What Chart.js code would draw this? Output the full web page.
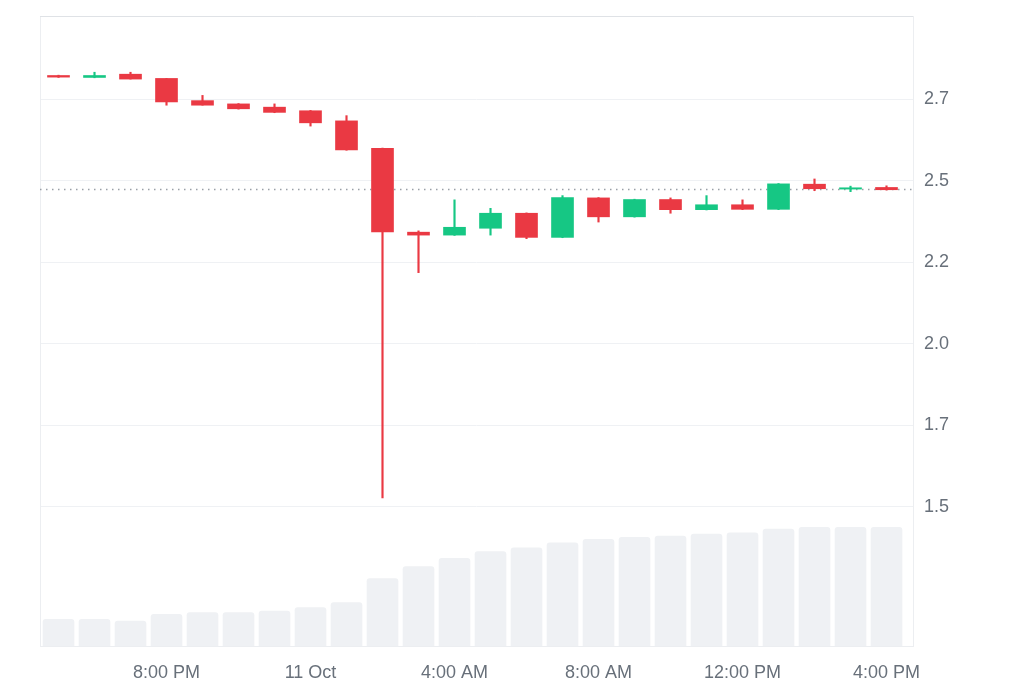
<!DOCTYPE html>
<html>
<head>
<meta charset="utf-8">
<title>Price chart</title>
<script src="https://cdn.jsdelivr.net/npm/chart.js@4/dist/chart.umd.min.js"></script>
<style>
  html, body { margin: 0; padding: 0; background: #fff; }
  canvas { display: block; }
</style>
</head>
<body>
<canvas id="chart" width="1024" height="683"></canvas>
<script>
// hourly candles, 10 Oct 5 PM -> 11 Oct 4 PM
const hours = ['5:00 PM', '6:00 PM', '7:00 PM', '8:00 PM', '9:00 PM', '10:00 PM', '11:00 PM', '11 Oct',
    '1:00 AM', '2:00 AM', '3:00 AM', '4:00 AM', '5:00 AM', '6:00 AM', '7:00 AM', '8:00 AM',
    '9:00 AM', '10:00 AM', '11:00 AM', '12:00 PM', '1:00 PM', '2:00 PM', '3:00 PM', '4:00 PM'];
const opens  = [2.822, 2.816, 2.826, 2.813, 2.745, 2.735, 2.725, 2.714, 2.683, 2.599, 2.342, 2.333,
    2.354, 2.400, 2.326, 2.447, 2.389, 2.442, 2.411, 2.426, 2.412, 2.489, 2.474, 2.479];
const highs  = [2.823, 2.832, 2.832, 2.813, 2.761, 2.736, 2.735, 2.715, 2.699, 2.600, 2.346, 2.441,
    2.415, 2.401, 2.454, 2.448, 2.443, 2.447, 2.454, 2.441, 2.491, 2.505, 2.483, 2.484];
const lows   = [2.816, 2.815, 2.811, 2.731, 2.731, 2.719, 2.708, 2.667, 2.593, 1.528, 2.218, 2.332,
    2.333, 2.322, 2.325, 2.373, 2.388, 2.400, 2.410, 2.411, 2.411, 2.469, 2.466, 2.471];
const closes = [2.817, 2.822, 2.811, 2.741, 2.731, 2.720, 2.709, 2.677, 2.594, 2.343, 2.333, 2.357,
    2.400, 2.326, 2.448, 2.389, 2.442, 2.411, 2.426, 2.412, 2.490, 2.475, 2.478, 2.472];
const volumes = [26.7, 26.7, 25.0, 31.7, 33.4, 33.4, 35.0, 38.4, 43.4, 67.4, 79.4, 87.7,
    94.4, 98.4, 103.4, 106.7, 108.7, 110.0, 112.0, 113.4, 117.0, 118.7, 118.7, 118.7];
const currentPrice = 2.475;

const priceTicks = [1.5, 1.75, 2.0, 2.25, 2.5, 2.75];
const priceLabels = ['1.5', '1.7', '2.0', '2.2', '2.5', '2.7'];
const timeTickIdx = [3, 7, 11, 15, 19, 23];

const UP = '#16c784';
const DOWN = '#ea3943';
const LABEL = '#68707a';
const FONT = { family: '"Liberation Sans", Arial, sans-serif', size: 18 };

const candleColors = opens.map((o, i) => closes[i] >= o ? UP : DOWN);

// frame + dotted current price line, under the candles
const chartFrame = {
    id: 'chartFrame',
    beforeDatasetsDraw(chart) {
        const { ctx, chartArea: a, scales } = chart;
        ctx.save();
        ctx.lineWidth = 1;
        ctx.strokeStyle = '#eceef1';
        ctx.strokeRect(a.left + 0.5, a.top + 0.5, a.right - a.left, a.bottom - a.top);
        ctx.strokeStyle = '#dfe2e6';
        ctx.beginPath();
        ctx.moveTo(a.left, a.top + 0.5);
        ctx.lineTo(a.right, a.top + 0.5);
        ctx.stroke();

        const y = Math.round(scales.y.getPixelForValue(currentPrice)) + 0.5;
        ctx.strokeStyle = '#9aa0a7';
        ctx.lineWidth = 1.5;
        ctx.setLineDash([1.5, 4.5]);
        ctx.beginPath();
        ctx.moveTo(a.left, y);
        ctx.lineTo(a.right, y);
        ctx.stroke();
        ctx.restore();
    }
};

// no extra label padding around the plot, the layout padding decides
const noLabelPadding = s => {
    s.paddingTop = 0;
    s.paddingBottom = 0;
    s.paddingLeft = 0;
    s.paddingRight = 0;
};

new Chart(document.getElementById('chart'), {
    type: 'bar',
    data: {
        datasets: [
            {
                label: 'body',
                data: opens.map((o, i) => ({ x: i, y: [o, closes[i]] })),
                backgroundColor: candleColors,
                barThickness: 22,
                grouped: false,
                order: 1
            },
            {
                label: 'wick',
                data: lows.map((l, i) => ({ x: i, y: [l, highs[i]] })),
                backgroundColor: candleColors,
                barThickness: 1.5,
                grouped: false,
                order: 2
            },
            {
                label: 'volume',
                yAxisID: 'v',
                data: volumes.map((v, i) => ({ x: i, y: v })),
                backgroundColor: '#eff1f4',
                borderRadius: { topLeft: 3, topRight: 3 },
                borderSkipped: 'start',
                barThickness: 31,
                grouped: false,
                order: 3
            }
        ]
    },
    options: {
        responsive: false,
        animation: false,
        devicePixelRatio: 1,
        layout: { padding: { left: 40, top: 16, right: 0, bottom: 0 } },
        plugins: { legend: { display: false }, tooltip: { enabled: false } },
        scales: {
            x: {
                type: 'linear',
                offset: false,
                min: -0.514,
                max: 23.736,
                afterBuildTicks: s => { s.ticks = timeTickIdx.map(v => ({ value: v })); },
                afterFit: s => { s.height = 37; noLabelPadding(s); },
                grid: { display: false, drawTicks: false, offset: false },
                border: { display: false },
                ticks: {
                    padding: 16,
                    autoSkip: false,
                    maxRotation: 0,
                    color: LABEL,
                    font: FONT,
                    callback: v => hours[v]
                }
            },
            y: {
                position: 'right',
                min: 1.0741,
                max: 3.0043,
                afterBuildTicks: s => { s.ticks = priceTicks.map(v => ({ value: v })); },
                afterFit: s => { s.width = 111; noLabelPadding(s); },
                grid: { color: '#eff1f4', drawTicks: false },
                border: { display: false },
                ticks: {
                    padding: 11,
                    color: LABEL,
                    font: FONT,
                    callback: (v, i) => priceLabels[i]
                }
            },
            v: { display: false, min: 0, max: 630.7 }
        }
    },
    plugins: [chartFrame]
});
</script>
</body>
</html>
